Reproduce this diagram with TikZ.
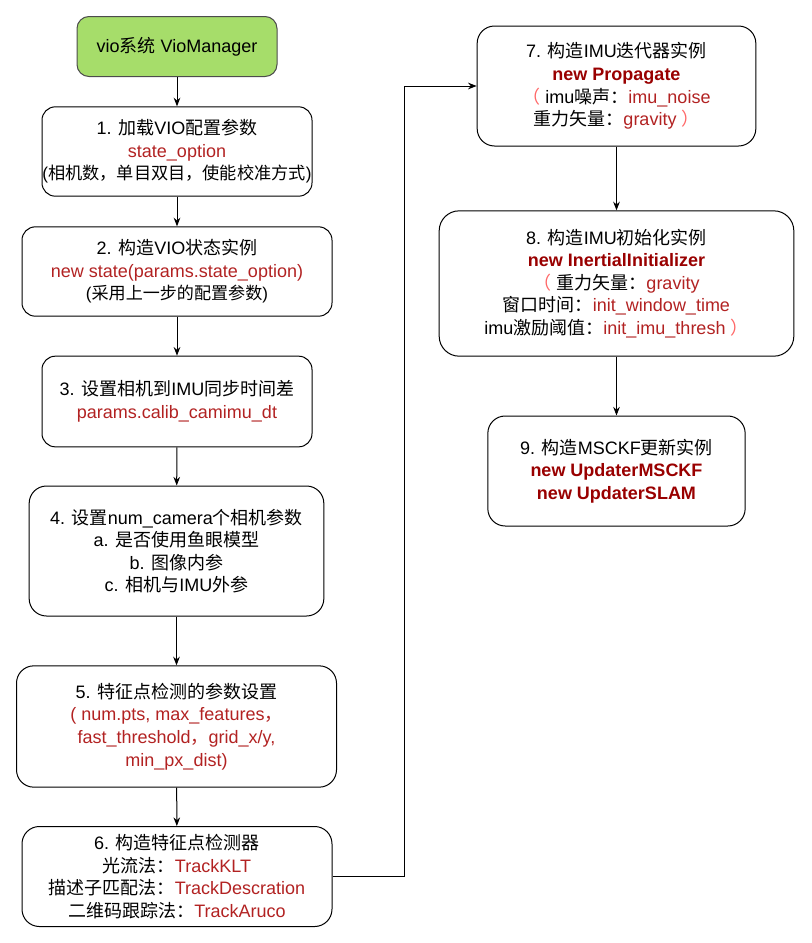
\documentclass[tikz,border=0pt]{standalone}
\usepackage{fontspec}
\setmainfont{Liberation Sans}
\newfontfamily\cjk{Noto Sans CJK SC}
\usepackage{xcolor}
\usetikzlibrary{arrows.meta,calc}
\definecolor{vred}{RGB}{178,34,34}
\definecolor{vdark}{RGB}{153,0,0}
\definecolor{vlight}{RGB}{255,102,102}
\definecolor{vgreen}{RGB}{166,221,106}
\newcommand{\zh}[1]{{\cjk #1}}
\newcommand{\rd}[1]{\textcolor{vred}{#1}}
\newcommand{\bd}[1]{\textcolor{vdark}{\textbf{#1}}}
\newcommand{\lt}[1]{\textcolor{vlight}{\zh{#1}}}
\tikzset{
	stepnode/.style={
			draw, line width=0.75pt, align=center, inner sep=0pt,
			font=\fontsize{13.5}{16.9}\selectfont
		},
	flow/.style={-{Stealth[length=6.5pt,width=5pt]}, line width=0.75pt}
}

\begin{document}
\begin{tikzpicture}[x=0.75pt,y=-0.75pt]
		\useasboundingbox (0,0) rectangle (811,943);
		% left column
		\node[stepnode, fill=vgreen, draw=black!70, rounded corners=9pt, minimum width=150pt, minimum height=45pt] (vio) at (177,46.5) {vio\zh{系统} VioManager};
		\node[stepnode, rounded corners=10pt, minimum width=202.5pt, minimum height=67pt] (load) at (177,151.5)
			{1. \zh{加载}VIO\zh{配置参数}\\ \rd{state\_option}\\ {\fontsize{12.9}{16.9}\selectfont (\zh{相机数，单目双目，使能校准方式})}};
		\node[stepnode, rounded corners=10pt, minimum width=232.5pt, minimum height=67pt] (state) at (177,271.5)
			{2. \zh{构造}VIO\zh{状态实例}\\ \rd{new state(params.state\_option)}\\ {\fontsize{12.8}{15}\selectfont (\zh{采用上一步的配置参数})}};
		\node[stepnode, rounded corners=10pt, minimum width=202.5pt, minimum height=68pt] (dt) at (177,401.5)
			{3. \zh{设置相机到}IMU\zh{同步时间差}\\ \rd{params.calib\_camimu\_dt}};
		\node[stepnode, rounded corners=13pt, minimum width=221pt, minimum height=97.5pt] (cam) at (176.5,551)
			{4. \zh{设置}num\_camera\zh{个相机参数}\\ a. \zh{是否使用鱼眼模型}\\ b. \zh{图像内参}\\ c. \zh{相机与}IMU\zh{外参}};
		\node[stepnode, rounded corners=13pt, minimum width=240pt, minimum height=91pt] (feat) at (176.5,726.5)
			{5. \zh{特征点检测的参数设置}\\ \rd{( num.pts, max\_features\zh{，}}\\ \rd{fast\_threshold\zh{，}grid\_x/y,}\\ \rd{min\_px\_dist)}};
		\node[stepnode, rounded corners=13pt, minimum width=232.5pt, minimum height=75pt] (track) at (177,876.5)
			{6. \zh{构造特征点检测器}\\ \zh{光流法：}\rd{TrackKLT}\\ \zh{描述子匹配法：}\rd{TrackDescration}\\ \zh{二维码跟踪法：}\rd{TrackAruco}};
		% right column
		\node[stepnode, rounded corners=13pt, minimum width=209pt, minimum height=90pt] (prop) at (616.5,86)
			{7. \zh{构造}IMU\zh{迭代器实例}\\ \bd{new Propagate}\\ \lt{（} imu\zh{噪声：}\rd{imu\_noise}\\ \zh{重力矢量：}\rd{gravity} \lt{）}};
		\node[stepnode, rounded corners=15pt, minimum width=266pt, minimum height=109pt] (init) at (616.5,283.5)
			{8. \zh{构造}IMU\zh{初始化实例}\\ \bd{new InertialInitializer}\\ \lt{（} \zh{重力矢量：}\rd{gravity}\\ \zh{窗口时间：}\rd{init\_window\_time}\\ imu\zh{激励阈值：}\rd{init\_imu\_thresh} \lt{）}};
		\node[stepnode, rounded corners=13pt, minimum width=193pt, minimum height=82.5pt] (upd) at (616.5,471)
			{9. \zh{构造}MSCKF\zh{更新实例}\\ \bd{new UpdaterMSCKF}\\ \bd{new UpdaterSLAM}};

		\draw[flow] (vio) -- (load);
		\draw[flow] (load) -- (state);
		\draw[flow] (state) -- (dt);
		\draw[flow] (dt) -- (cam);
		\draw[flow] (cam) -- (feat);
		\draw[flow] (feat) -- (track);
		\draw[flow] (track.east) -- ++(72,0) |- (prop.west);
		\draw[flow] (prop) -- (init);
		\draw[flow] (init) -- (upd);
	\end{tikzpicture}
\end{document}
